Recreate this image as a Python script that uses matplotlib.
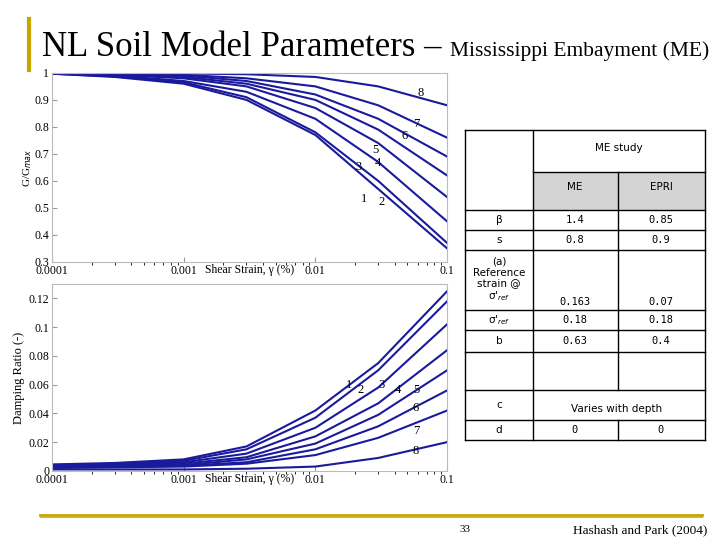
import matplotlib
matplotlib.use("Agg")
import matplotlib.pyplot as plt
from matplotlib.lines import Line2D
from matplotlib.patches import Rectangle

strain = [0.0001, 0.0003, 0.001, 0.003, 0.01, 0.03, 0.1]
g_curves = [
    [0.997, 0.985, 0.96, 0.90, 0.77, 0.57, 0.35],
    [0.997, 0.987, 0.965, 0.91, 0.78, 0.60, 0.37],
    [0.998, 0.99, 0.97, 0.93, 0.83, 0.67, 0.45],
    [0.998, 0.993, 0.98, 0.95, 0.87, 0.74, 0.54],
    [0.999, 0.995, 0.985, 0.96, 0.90, 0.79, 0.62],
    [0.999, 0.996, 0.99, 0.97, 0.92, 0.83, 0.69],
    [1.0, 0.998, 0.993, 0.98, 0.95, 0.88, 0.76],
    [1.0, 0.999, 0.998, 0.995, 0.985, 0.95, 0.88],
]
d_curves = [
    [0.0045, 0.0055, 0.008, 0.017, 0.042, 0.075, 0.125],
    [0.004, 0.005, 0.007, 0.015, 0.037, 0.070, 0.118],
    [0.0035, 0.0045, 0.006, 0.012, 0.030, 0.058, 0.102],
    [0.003, 0.004, 0.005, 0.0095, 0.024, 0.047, 0.084],
    [0.003, 0.0035, 0.004, 0.008, 0.019, 0.039, 0.070],
    [0.0025, 0.003, 0.0035, 0.006, 0.015, 0.031, 0.056],
    [0.002, 0.0025, 0.003, 0.005, 0.011, 0.023, 0.042],
    [0.001, 0.001, 0.001, 0.0015, 0.003, 0.009, 0.020],
]
curve_ids = ["1", "2", "3", "4", "5", "6", "7", "8"]
g_label_x = [0.022, 0.03, 0.02, 0.028, 0.027, 0.045, 0.055, 0.06]
g_label_y = [0.52, 0.51, 0.64, 0.655, 0.705, 0.755, 0.80, 0.915]
d_label_x = [0.017, 0.021, 0.03, 0.04, 0.055, 0.055, 0.055, 0.055]
d_label_y = [0.058, 0.054, 0.058, 0.054, 0.054, 0.042, 0.026, 0.012]

serif = "Liberation Serif"
navy = "#1a1a9c"
fig = plt.figure(figsize=(7.2, 5.4), dpi=100)
fig.patch.set_facecolor("white")

fig.text(0.058, 0.896, "NL Soil Model Parameters – ", family=serif,
         fontsize=25, va="baseline")
fig.text(0.625, 0.896, "Mississippi Embayment (ME)", family=serif,
         fontsize=15.5, va="baseline")
fig.add_artist(Line2D([0.04, 0.04], [0.87, 0.965], color="#c8a600", lw=3))
fig.add_artist(Line2D([0.055, 0.975], [0.047, 0.047], color="#c8a600", lw=2))
fig.add_artist(Line2D([0.055, 0.975], [0.042, 0.042], color="#c8a600", lw=0.6))

def style(ax):
    ax.set_xscale("log")
    ax.set_xlim(0.0001, 0.1)
    for s in ax.spines.values():
        s.set_color("#bbbbbb")
    ax.tick_params(labelsize=8.5, direction="in", color="#999999", pad=2)
    ax.set_xticks([0.0001, 0.001, 0.01, 0.1])
    ax.set_xticklabels(["0.0001", "0.001", "0.01", "0.1"], family=serif)
    for t in ax.get_yticklabels():
        t.set_family(serif)
    ax.text(0.5, -0.045, "Shear Strain, γ (%)", transform=ax.transAxes, family=serif,
            fontsize=8.5, ha="center", va="center")

ax1 = fig.add_axes([0.072, 0.515, 0.549, 0.35])
for i, c in enumerate(g_curves):
    ax1.plot(strain, c, color=navy, lw=1.5)
    ax1.text(g_label_x[i], g_label_y[i], curve_ids[i], family=serif, fontsize=9)
ax1.set_ylim(0.3, 1.0)
ax1.set_yticks([0.3, 0.4, 0.5, 0.6, 0.7, 0.8, 0.9, 1.0])
ax1.set_yticklabels(["0.3", "0.4", "0.5", "0.6", "0.7", "0.8", "0.9", "1"])
style(ax1)
ax1.set_ylabel("G/G$_{max}$", family=serif, fontsize=8, labelpad=0)

ax2 = fig.add_axes([0.072, 0.128, 0.549, 0.346])
for i, c in enumerate(d_curves):
    ax2.plot(strain, c, color=navy, lw=1.5)
    ax2.text(d_label_x[i], d_label_y[i], curve_ids[i], family=serif, fontsize=9)
ax2.set_ylim(0, 0.13)
ax2.set_yticks([0, 0.02, 0.04, 0.06, 0.08, 0.1, 0.12])
ax2.set_yticklabels(["0", "0.02", "0.04", "0.06", "0.08", "0.1", "0.12"])
style(ax2)
ax2.set_ylabel("Damping Ratio (-)", family=serif, fontsize=9, labelpad=2)

# table
W, H = 720, 540
ys = [130, 172, 210, 230, 250, 310, 330, 352, 390, 420, 440]
def fx(x): return x / W
def fy(y): return 1 - y / H
fig.add_artist(Rectangle((fx(533), fy(210)), fx(705) - fx(533), fy(172) - fy(210),
                         facecolor="#d4d4d4", edgecolor="none"))
for y in ys:
    x0 = 533 if y == 172 else 465
    fig.add_artist(Line2D([fx(x0), fx(705)], [fy(y), fy(y)], color="black", lw=1))
for x in [465, 533, 705]:
    fig.add_artist(Line2D([fx(x), fx(x)], [fy(130), fy(440)], color="black", lw=1))
for (a, b) in [(172, 390), (420, 440)]:
    fig.add_artist(Line2D([fx(618), fx(618)], [fy(a), fy(b)], color="black", lw=1))

row_names = ["β", "s", "(a)\nReference\nstrain @\nσ'$_{ref}$", "σ'$_{ref}$", "b", "", "c", "d"]
me_vals = ["1.4", "0.8", "0.163", "0.18", "0.63", "", "", "0"]
epri_vals = ["0.85", "0.9", "0.07", "0.18", "0.4", "", "", "0"]
tf = dict(fontsize=7.5, ha="center", va="center")
fig.text(fx(619), fy(148), "ME study", **tf)
fig.text(fx(575), fy(187), "ME", **tf)
fig.text(fx(661), fy(187), "EPRI", **tf)
for i, name in enumerate(row_names):
    yc = (ys[i + 2] + ys[i + 3]) / 2
    fig.text(fx(499), fy(yc), name, linespacing=1.1, **tf)
    yv = 302 if i == 2 else yc
    fig.text(fx(575), fy(yv), me_vals[i], family="DejaVu Sans Mono", **tf)
    fig.text(fx(661), fy(yv), epri_vals[i], family="DejaVu Sans Mono", **tf)
fig.text(fx(617), fy(409), "Varies with depth", **tf)

fig.text(fx(465), fy(530), "33", family=serif, fontsize=8, ha="center", va="center")
fig.text(fx(640), fy(530), "Hashash and Park (2004)", family=serif, fontsize=9.5,
         ha="center", va="center")

fig.savefig("out.png", dpi=100, facecolor="white")
